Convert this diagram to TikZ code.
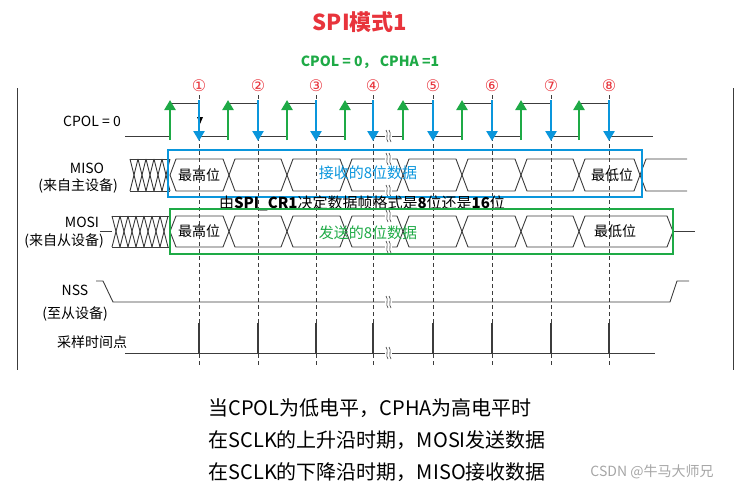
\documentclass[tikz,border=0pt]{standalone}
\usepackage{fontspec}
\setmainfont{Noto Sans CJK SC}
\newfontfamily\djv{DejaVu Sans}
\usetikzlibrary{arrows.meta}
\definecolor{cred}{RGB}{232,52,60}
\definecolor{cgreen}{RGB}{30,170,70}
\definecolor{cblue}{RGB}{10,150,220}
\definecolor{cline}{RGB}{60,60,60}
\tikzset{
  sig/.style={draw=cline,line width=0.9pt},
  dashln/.style={draw=cline,line width=0.5pt,dash pattern=on 4pt off 3pt},
  uparr/.style={draw=cgreen,line width=2.8pt,-{Triangle[width=11pt,length=10pt]}},
  downarr/.style={draw=cblue,line width=2.8pt,-{Triangle[width=11pt,length=10pt]}},
  lbl/.style={font=\fontsize{14}{14}\selectfont,text=black},
}
\newcommand{\cell}[4]{% a b top bot
  \draw[sig] (#1,{(#3+#4)/2})--(#1+6,#3)--(#2-6,#3)--(#2,{(#3+#4)/2})--(#2-6,#4)--(#1+6,#4)--cycle;}
\newcommand{\brk}[2]{%
  \fill[white] (#1-3,#2-6) rectangle (#1+4,#2+6);
  \draw[cline,line width=0.6pt] (#1-2,#2-6) .. controls (#1+1,#2-3) and (#1-3,#2+3) .. (#1,#2+6);
  \draw[cline,line width=0.6pt] (#1+1,#2-6) .. controls (#1+4,#2-3) and (#1,#2+3) .. (#1+3,#2+6);}
\begin{document}
\begin{tikzpicture}[x=1pt,y=-1pt]
\useasboundingbox (0,0) rectangle (749,491);
\node (title) at (360,22) {\fontsize{22}{22}\selectfont\bfseries\color{cred}SPI模式1};
\node (mode) at (370,62) {\fontsize{14}{14}\selectfont\bfseries\color{cgreen}CPOL = 0， CPHA =1};
% frame
\draw[cline,line width=0.8pt] (17,88)--(17,370);
\draw[cline,line width=0.8pt] (733,88)--(733,370);
% dashed lines and numbers
\foreach \x/\n in {199/①,258/②,316/③,373/④,433/⑤,492/⑥,551/⑦,609/⑧}{
  \draw[dashln] (\x,95)--(\x,365);
  \node[text=cred,font=\djv\fontsize{16}{16}\selectfont] at (\x,86) {\n};
}
% labels
\node[lbl] (lcpol) at (92,121) {CPOL = 0};
\node[lbl] (lmiso) at (87,168) {MISO};
\node[lbl] (lmiso2) at (78,186) {(来自主设备)};
\node[lbl] (lmosi) at (82,222) {MOSI};
\node[lbl] (lmosi2) at (64,241) {(来自从设备)};
\node[lbl] (lnss) at (75,290) {NSS};
\node[lbl] (lnss2) at (75,314) {(至从设备)};
\node[lbl] (lsamp) at (92,342) {采样时间点};
% clock
\draw[sig] (125,136)--(170,136)--(170,103)--(199,103)--(199,136)--(228,136)--(228,103)--(258,103)--(258,136)--(287,136)--(287,103)--(316,103)--(316,136)--(345,136)--(345,103)--(373,103)--(373,136)--(403,136)--(403,103)--(433,103)--(433,136)--(462,136)--(462,103)--(492,103)--(492,136)--(521,136)--(521,103)--(551,103)--(551,136)--(579,136)--(579,103)--(609,103)--(609,136)--(653,136);
\brk{388}{136}
\fill[black] (197,117)--(203,117)--(200,124)--cycle;
\foreach \x in {170,228,287,345,403,462,521,579} \draw[uparr] (\x,140)--(\x,100);
\foreach \x in {199,258,316,373,433,492,551,609} \draw[downarr] (\x,100)--(\x,141);
% MISO bus
\foreach \i in {0,...,4}{\draw[sig] (130+\i*8,159)--(138+\i*8,191); \draw[sig] (130+\i*8,191)--(138+\i*8,159);}
\draw[sig] (130,159)--(170,159); \draw[sig] (130,191)--(170,191);
\foreach \a/\b in {170/229,229/287,287/346,346/403,403/462,462/521,521/579,579/640}{\cell{\a}{\b}{159}{191}}
\draw[sig] (640,175)--(646,159)--(687,159); \draw[sig] (640,175)--(646,191)--(687,191);
\brk{388}{159}\brk{388}{191}
\node[lbl] at (199,175) {最高位};
\node[lbl] at (612,175) {最低位};
\draw[cblue,line width=1.6pt] (168,150) rectangle (642,197);
\node[text=cblue,font=\fontsize{15}{15}\selectfont] (rx) at (368,173) {接收的8位数据};
% note
\node[font=\fontsize{15}{15}\selectfont] (note) at (362,203) {由\textbf{SPI\_CR1}决定数据帧格式是\textbf{8}位还是\textbf{16}位};
% MOSI bus
\draw[sig] (100,231)--(112,231);
\foreach \i in {0,...,6}{\draw[sig] (112+\i*8,216)--(120+\i*8,247); \draw[sig] (112+\i*8,247)--(120+\i*8,216);}
\draw[sig] (112,216)--(170,216); \draw[sig] (112,247)--(170,247);
\foreach \a/\b in {170/229,229/287,287/346,346/403,403/462,462/521,521/579,579/673}{\cell{\a}{\b}{216}{247}}
\draw[sig] (673,231)--(695,231);
\brk{388}{216}\brk{388}{247}
\node[lbl] at (199,231) {最高位};
\node[lbl] at (615,231) {最低位};
\draw[cgreen,line width=1.6pt] (170,209) rectangle (673,254);
\node[text=cgreen,font=\fontsize{15}{15}\selectfont] (tx) at (368,233) {发送的8位数据};
% NSS
\draw[sig] (96,281)--(103,281)--(113,302)--(670,302)--(677,281)--(689,281);
\brk{388}{302}
% sampling
\draw[sig] (125,353)--(655,353);
\foreach \x in {199,258,316,373,433,492,551,609} \draw[sig,line width=1.1pt] (\x,323)--(\x,353);
\brk{388}{353}
% bottom text
\node[anchor=west,font=\fontsize{20}{20}\selectfont] at (205,408) {当CPOL为低电平，CPHA为高电平时};
\node[anchor=west,font=\fontsize{20}{20}\selectfont] at (205,440) {在SCLK的上升沿时期，MOSI发送数据};
\node[anchor=west,font=\fontsize{20}{20}\selectfont] at (205,472) {在SCLK的下降沿时期，MISO接收数据};
\node[text=gray!70,font=\fontsize{14}{14}\selectfont] at (652,472) {CSDN @牛马大师兄};
\end{tikzpicture}
\end{document}
